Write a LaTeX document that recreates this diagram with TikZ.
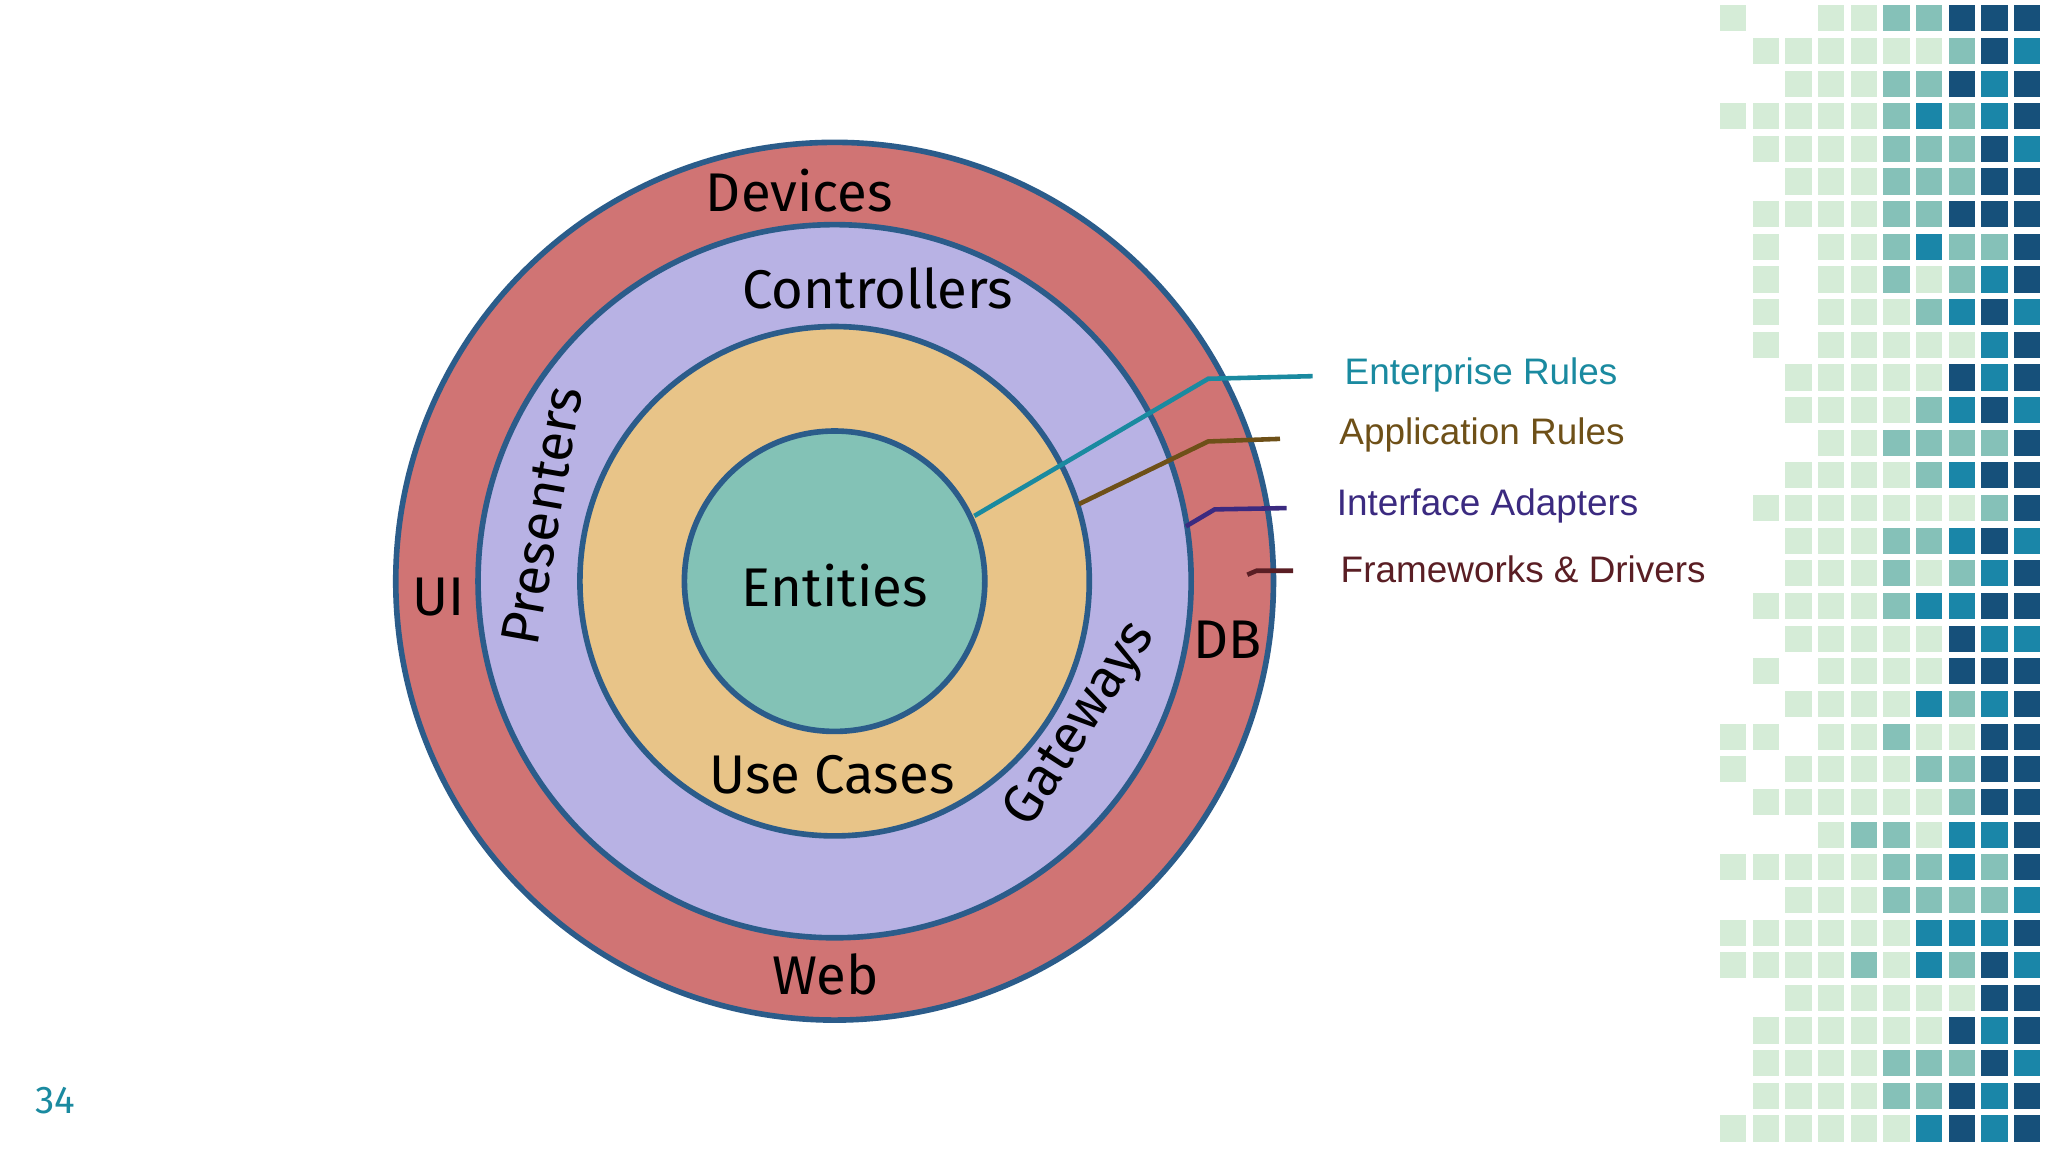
\documentclass[tikz,border=0pt]{standalone}
\usepackage{fontspec}
\setmainfont{Fira Sans}
\newfontfamily\arialf{Liberation Sans}
\begin{document}
\begin{tikzpicture}[x=0.01306cm,y=-0.01306cm,
  ring/.style={draw=ringline,line width=1.6pt},
  big/.style={font=\fontsize{15.5}{18}\selectfont},
  lab/.style={font=\arialf\fontsize{10.5}{12}\selectfont,anchor=west},
  lead/.style={line width=1.3pt}]
\definecolor{ringline}{HTML}{2B5C8A}
\definecolor{cred}{HTML}{D07474}
\definecolor{cvio}{HTML}{B8B2E4}
\definecolor{cora}{HTML}{E8C488}
\definecolor{cgre}{HTML}{83C2B6}
\definecolor{lteal}{HTML}{1A8AA0}
\definecolor{lbrown}{HTML}{6E5018}
\definecolor{lpurp}{HTML}{3B2A80}
\definecolor{lmar}{HTML}{5A1E24}
\definecolor{g1}{HTML}{D5ECD7}
\definecolor{g2}{HTML}{85C1B8}
\definecolor{g3}{HTML}{1A86A8}
\definecolor{g4}{HTML}{16507A}
\useasboundingbox[fill=white] (0,0) rectangle (1568,882);
% grid
\pgfmathsetseed{7}
\foreach \r in {0,...,34}{
 \foreach \c in {0,...,9}{
  \pgfmathsetmacro{\v}{\c*0.5+rnd*1.8-1.0}
  \pgfmathtruncatemacro{\lv}{\v<0.4?0:(\v<1.8?1:(\v<2.6?2:(\v<3.3?3:(\v<3.9?4:5))))}
  \ifnum\lv>0
   \ifcase\lv\or\def\cc{g1}\or\def\cc{g1}\or\def\cc{g2}\or\def\cc{g3}\or\def\cc{g4}\fi
   \fill[\cc] ({1317+\c*25},{4+\r*25}) rectangle +(20,20);
  \fi
 }}
% rings
\coordinate (c) at (639,445);
\fill[cred,ring] (c) circle (336);
\fill[cvio,ring] (c) circle (273);
\fill[cora,ring] (c) circle (195);
\fill[cgre,ring] (c) circle (115);
\node[big] (dev) at (612,146) {Devices};
\node[big] (con) at (672,221) {Controllers};
\node[big] (ui) at (336,457) {UI};
\node[big] (db) at (940,490) {DB};
\node[big] (web) at (632,746) {Web};
\node[big] (uc) at (637,593) {Use Cases};
\node[big] (ent) at (639,448) {Entities};
\node[big,rotate=80] (pre) at (415,395) {Presenters};
\node[big,rotate=57] (gw) at (828,555) {Gateways};
% labels
\node[lab,text=lteal] (l1) at (1020,287) {Enterprise Rules};
\node[lab,text=lbrown] (l2) at (1016,333) {Application Rules};
\node[lab,text=lpurp] (l3) at (1014,387) {Interface Adapters};
\node[lab,text=lmar] (l4) at (1017,436) {Frameworks \& Drivers};
\coordinate (a1) at (746,395); \coordinate (a2) at (826,386);
\coordinate (a3) at (908,403); \coordinate (a4) at (955,440);
\draw[lead,lteal] (a1) -- (925,290) -- (1005,288);
\draw[lead,lbrown] (a2) -- (925,338) -- (980,336);
\draw[lead,lpurp] (a3) -- (930,390) -- (985,389);
\draw[lead,lmar] (a4) -- (962,437) -- (990,437);
\node[text=lteal,font=\fontsize{11}{12}\selectfont] (pg) at (42,843) {34};
\end{tikzpicture}
\end{document}
